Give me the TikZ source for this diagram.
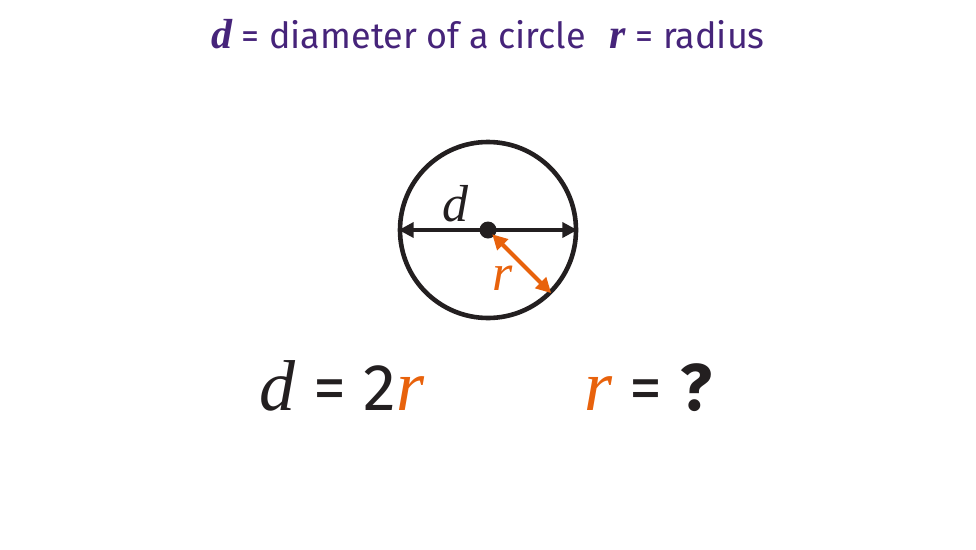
\documentclass[tikz,border=0pt]{standalone}
\usepackage{fontspec}
\setmainfont{Fira Sans}
\newfontfamily\varfont{Liberation Serif}
\usetikzlibrary{arrows.meta,positioning}
\definecolor{headpurple}{HTML}{46247A}
\definecolor{radorange}{HTML}{E8620C}
\definecolor{inkblack}{HTML}{231F20}
\tikzset{
  heading/.style={
    % The text:
    font=\fontsize{36}{40}\selectfont,
    text=headpurple,
    inner sep=0pt},
  formula/.style={
    font=\fontsize{66}{72}\selectfont,
    text=inkblack,
    inner sep=0pt},
  varlabel/.style={
    font=\fontsize{52}{58}\selectfont\varfont\itshape,
    inner sep=0pt},
  measure/.style={
    % The line:
    line width=4.2pt,
    {Triangle[length=15pt,width=15pt]}-{Triangle[length=15pt,width=15pt]}}
}
\newcommand{\fvar}[1]{{\varfont\itshape\fontsize{72}{78}\selectfont #1}}

\begin{document}
\begin{tikzpicture}[x=1pt,y=-1pt]
  \useasboundingbox (0,0) rectangle (976,549);

  % heading line
  \node (head) [heading] at (488,34)
    {{\varfont\bfseries\itshape\fontsize{42}{44}\selectfont d} = diameter of a circle\hspace{24pt}{\varfont\bfseries\itshape\fontsize{42}{44}\selectfont r} = radius};

  % the circle
  \node (circ) [circle,draw=inkblack,line width=4.6pt,minimum size=176pt,inner sep=0pt] at (488,230) {};
  \node (centre) [circle,fill=inkblack,minimum size=17pt,inner sep=0pt] at (488,230) {};
  \draw[measure,draw=inkblack,fill=inkblack,shorten <=1pt,shorten >=1pt] (circ.west) -- (circ.east);
  \draw[measure,draw=radorange,fill=radorange,shorten <=6pt,shorten >=1pt] (centre.center) -- (circ.-45);
  \node (dlab) [varlabel,text=inkblack] at (455,204) {d};
  \node (rlab) [varlabel,text=radorange] at (503,278) {r};

  % formulas
  \node (dform) [formula,anchor=base] at (342,410)
    {\fvar{d} = 2{\color{radorange}\fvar{r}}};
  \node (rform) [formula,anchor=base] at (648,410)
    {{\color{radorange}\fvar{r}} = \textbf{?}};
\end{tikzpicture}
\end{document}
